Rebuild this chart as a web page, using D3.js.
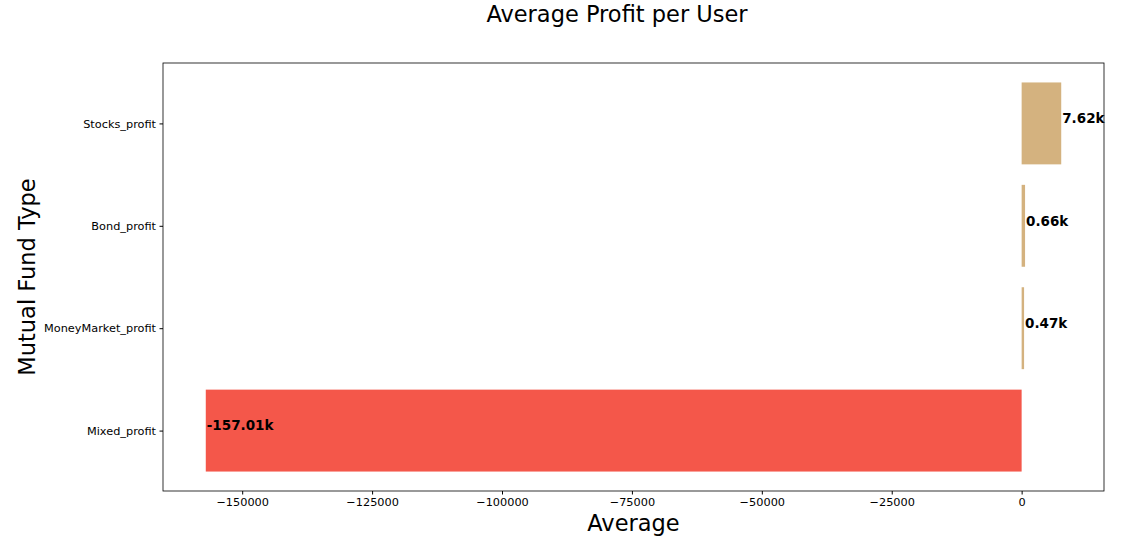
<!DOCTYPE html>
<html>
<head>
<meta charset="utf-8">
<script src="https://cdn.jsdelivr.net/npm/d3@7"></script>
<style>
  body { margin: 0; background: #fff; }
  svg text { font-family: "DejaVu Sans", sans-serif; }
</style>
</head>
<body>
<div id="chart"></div>
<script>
// Mutual fund types, top to bottom as drawn.
const categories = ["Stocks_profit", "Bond_profit", "MoneyMarket_profit", "Mixed_profit"];
const averages = [7620, 660, 470, -157010];
const valueLabels = ["7.62k", "0.66k", "0.47k", "-157.01k"];
const xTicks = [-150000, -125000, -100000, -75000, -50000, -25000, 0];

const width = 1140;
const height = 549;
const margin = { top: 63, right: 36, bottom: 58, left: 163 };

const svg = d3
  .select("#chart")
  .append("svg")
  .attr("width", width)
  .attr("height", height);

const innerW = width - margin.left - margin.right;
const innerH = height - margin.top - margin.bottom;

const g = svg
  .append("g")
  .attr("transform", "translate(" + margin.left + "," + margin.top + ")");

// matplotlib-style 5% padding around the data range
const lo = d3.min(averages);
const hi = d3.max(averages);
const pad = (hi - lo) * 0.05;
const x = d3.scaleLinear().domain([lo - pad, hi + pad]).range([0, innerW]);

// categorical positions 0..3 (bottom to top) with 0.8 bar height
const y = d3
  .scaleLinear()
  .domain([-0.4 - 0.19, 3.4 + 0.19])
  .range([innerH, 0]);
const pos = (i) => categories.length - 1 - i;

// bars
g.selectAll("rect.bar")
  .data(averages)
  .enter()
  .append("rect")
  .attr("class", "bar")
  .attr("x", (d) => Math.min(x(d), x(0)))
  .attr("width", (d) => Math.abs(x(d) - x(0)))
  .attr("y", (d, i) => y(pos(i) + 0.4))
  .attr("height", y(0) - y(0.8))
  .attr("fill", (d) => (d < 0 ? "#f4574a" : "#d4b27f"));

// value labels at the bar ends
g.selectAll("text.val")
  .data(averages)
  .enter()
  .append("text")
  .attr("class", "val")
  .attr("x", (d) => x(d) + 1)
  .attr("y", (d, i) => y(pos(i)) - 5)
  .attr("dy", "0.35em")
  .style("font-size", "13.5px")
  .style("font-weight", "bold")
  .style("fill", "#000")
  .text((d, i) => valueLabels[i]);

// frame
g.append("rect")
  .attr("width", innerW)
  .attr("height", innerH)
  .attr("fill", "none")
  .attr("stroke", "#000")
  .attr("stroke-width", 0.8);

// x axis
const xAxis = g
  .append("g")
  .attr("transform", "translate(0," + innerH + ")")
  .call(
    d3.axisBottom(x)
      .tickValues(xTicks)
      .tickSize(3.5)
      .tickPadding(3.5)
      .tickFormat((d) => (d < 0 ? "\u2212" + Math.abs(d) : d))
  );
xAxis.select(".domain").remove();
xAxis.selectAll("text").style("font-size", "11.3px").style("fill", "#000");

// y axis
const yAxis = g.append("g").call(
  d3.axisLeft(y)
    .tickValues(d3.range(categories.length))
    .tickSize(3.5)
    .tickPadding(3.5)
    .tickFormat((d) => categories[categories.length - 1 - d])
);
yAxis.select(".domain").remove();
yAxis.selectAll("text").style("font-size", "11.3px").style("fill", "#000");

// title and axis labels
svg.append("text")
  .attr("x", 617)
  .attr("y", 22)
  .attr("text-anchor", "middle")
  .style("font-size", "22.5px")
  .style("fill", "#000")
  .text("Average Profit per User");

svg.append("text")
  .attr("x", margin.left + innerW / 2)
  .attr("y", 531)
  .attr("text-anchor", "middle")
  .style("font-size", "22.5px")
  .style("fill", "#000")
  .text("Average");

svg.append("text")
  .attr("transform", "translate(35," + (margin.top + innerH / 2) + ") rotate(-90)")
  .attr("text-anchor", "middle")
  .style("font-size", "22.5px")
  .style("fill", "#000")
  .text("Mutual Fund Type");
</script>
</body>
</html>
